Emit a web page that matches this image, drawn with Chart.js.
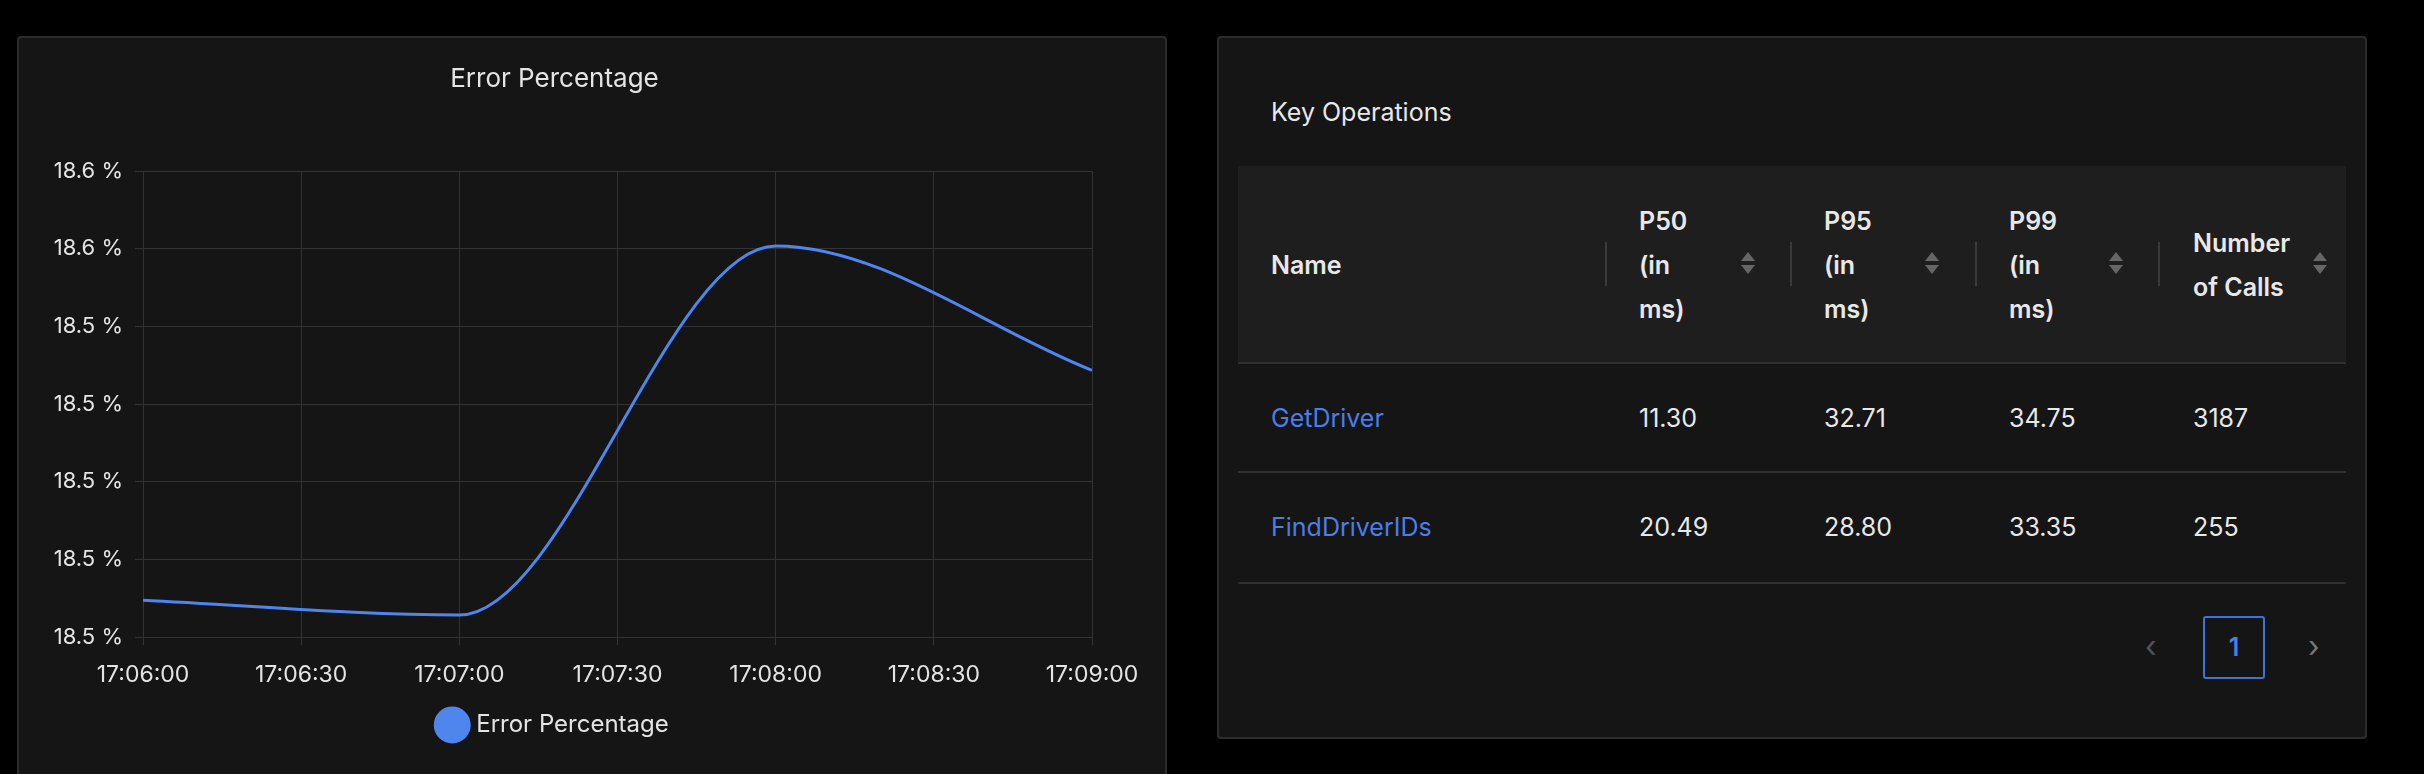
<!DOCTYPE html>
<html><head><meta charset="utf-8">
<script src="https://cdn.jsdelivr.net/npm/chart.js@4"></script>
<style>
html,body{margin:0;padding:0;background:#000;width:2424px;height:774px;overflow:hidden;font-family:Inter,"Noto Sans",sans-serif;}
.panel{position:absolute;background:#151515;border:2px solid #2c2c2c;border-radius:4px;box-sizing:border-box;}
#left{left:17px;top:36px;width:1150px;height:760px;}
#right{left:1217px;top:36px;width:1150px;height:703px;}
#cw{position:absolute;left:17px;top:36px;width:1150px;height:738px;}
.t{position:absolute;color:#e8e8e8;font-size:25px;white-space:nowrap;}
.hdr{position:absolute;left:1238px;top:166px;width:1108px;height:197px;background:#1e1e1e;}
.line{position:absolute;left:1238px;width:1108px;height:2px;background:#303030;}
.vd{position:absolute;top:242px;height:44px;width:2px;background:#3a3a3a;}
.h{font-weight:600;line-height:44px;}
.link{color:#4a7ee8;}
.sort{position:absolute;width:14px;}
.sort:before{content:"";position:absolute;left:0;top:0;border-left:7px solid transparent;border-right:7px solid transparent;border-bottom:9px solid #666;}
.sort:after{content:"";position:absolute;left:0;top:13px;border-left:7px solid transparent;border-right:7px solid transparent;border-top:9px solid #666;}
</style></head><body>
<div class="panel" id="left"></div>
<div id="cw"><canvas id="c"></canvas></div>
<div class="panel" id="right"></div>
<div class="t" style="left:1271px;top:97px;">Key Operations</div>
<div class="hdr"></div>
<div class="line" style="top:362px"></div>
<div class="line" style="top:471px"></div>
<div class="line" style="top:582px"></div>
<div class="vd" style="left:1605px"></div>
<div class="vd" style="left:1790px"></div>
<div class="vd" style="left:1975px"></div>
<div class="vd" style="left:2158px"></div>
<div id="tbl"></div>
<div style="position:absolute;left:2203px;top:616px;width:62px;height:63px;border:2px solid #3f73d6;box-sizing:border-box;border-radius:3px;color:#4a7ee8;font-size:25px;font-weight:600;text-align:center;line-height:59px;">1</div>
<div class="t" style="left:2145px;top:628px;color:#555;font-size:30px;">&#8249;</div>
<div class="t" style="left:2308px;top:628px;color:#777;font-size:30px;">&#8250;</div>
<script>
const times=[0,60,120,180];
const xTickLabels=["17:06:00","17:06:30","17:07:00","17:07:30","17:08:00","17:08:30","17:09:00"];
const errorPct=[18.50474,18.50282,18.55038,18.53436];
const yTickValues=[18.50,18.51,18.52,18.53,18.54,18.55,18.56];
const yTickLabels=["18.5 %","18.5 %","18.5 %","18.5 %","18.5 %","18.6 %","18.6 %"];
const opNames=["GetDriver","FindDriverIDs"];
const p50=["11.30","20.49"];
const p95=["32.71","28.80"];
const p99=["34.75","33.35"];
const calls=["3187","255"];

const tbl=document.getElementById('tbl');
let html='';
html+='<div class="t h" style="left:1271px;top:243px;">Name</div>';
[["P50",1639,1748],["P95",1824,1932],["P99",2009,2116]].forEach(c=>{
  html+=`<div class="t h" style="left:${c[1]}px;top:199px;">${c[0]}<br>(in<br>ms)</div>`;
  html+=`<div class="sort" style="left:${c[2]-7}px;top:252px;"></div>`;
});
html+='<div class="t h" style="left:2193px;top:221px;">Number<br>of Calls</div>';
html+='<div class="sort" style="left:2313px;top:252px;"></div>';
const rowY=[419,528];
opNames.forEach((n,i)=>{
  const y=rowY[i]-16;
  html+=`<div class="t link" style="left:1271px;top:${y}px;">${n}</div>`;
  html+=`<div class="t" style="left:1639px;top:${y}px;">${p50[i]}</div>`;
  html+=`<div class="t" style="left:1824px;top:${y}px;">${p95[i]}</div>`;
  html+=`<div class="t" style="left:2009px;top:${y}px;">${p99[i]}</div>`;
  html+=`<div class="t" style="left:2193px;top:${y}px;">${calls[i]}</div>`;
});
tbl.innerHTML=html;

const fam='Inter, "Noto Sans", sans-serif';
const font={family:fam,size:22};
new Chart(document.getElementById('c'),{
  type:'line',
  data:{datasets:[{label:'Error Percentage',data:times.map((t,i)=>({x:t,y:errorPct[i]})),
    borderColor:'#4e86ee',backgroundColor:'#4e86ee',borderWidth:3,pointRadius:0,
    cubicInterpolationMode:'monotone',fill:false}]},
  options:{responsive:true,maintainAspectRatio:false,animation:false,devicePixelRatio:1,
    layout:{padding:{left:0,right:75,top:0,bottom:27}},
    plugins:{
      title:{display:true,text:'Error Percentage',color:'#e4e4e4',font:{family:fam,size:26,weight:'normal'},padding:{top:28,bottom:76}},
      legend:{position:'bottom',labels:{color:'#e4e4e4',font:{family:fam,size:24},usePointStyle:true,pointStyle:'circle',boxWidth:24,boxHeight:24,padding:10}},
      tooltip:{enabled:false}},
    scales:{
      x:{type:'linear',min:0,max:180,
        afterBuildTicks:s=>{s.ticks=xTickLabels.map((_,i)=>({value:i*30}));},
        afterFit:s=>{s.height=66;},
        ticks:{color:'#e4e4e4',font:{family:fam,size:23},padding:16,maxRotation:0,autoSkip:false,callback:(v)=>xTickLabels[Math.round(v/30)]},
        grid:{color:'#333',tickLength:8},border:{color:'#333'}},
      y:{type:'linear',min:18.50,max:18.56,
        afterBuildTicks:s=>{s.ticks=yTickValues.map(v=>({value:v}));},
        afterFit:s=>{s.width=126;},
        ticks:{color:'#e4e4e4',font,padding:12,callback:(v)=>{const i=yTickValues.findIndex(t=>Math.abs(t-v)<1e-6);return yTickLabels[i];}},
        grid:{color:'#333',tickLength:8},border:{color:'#333'}}
    }}
});
</script>
</body></html>
